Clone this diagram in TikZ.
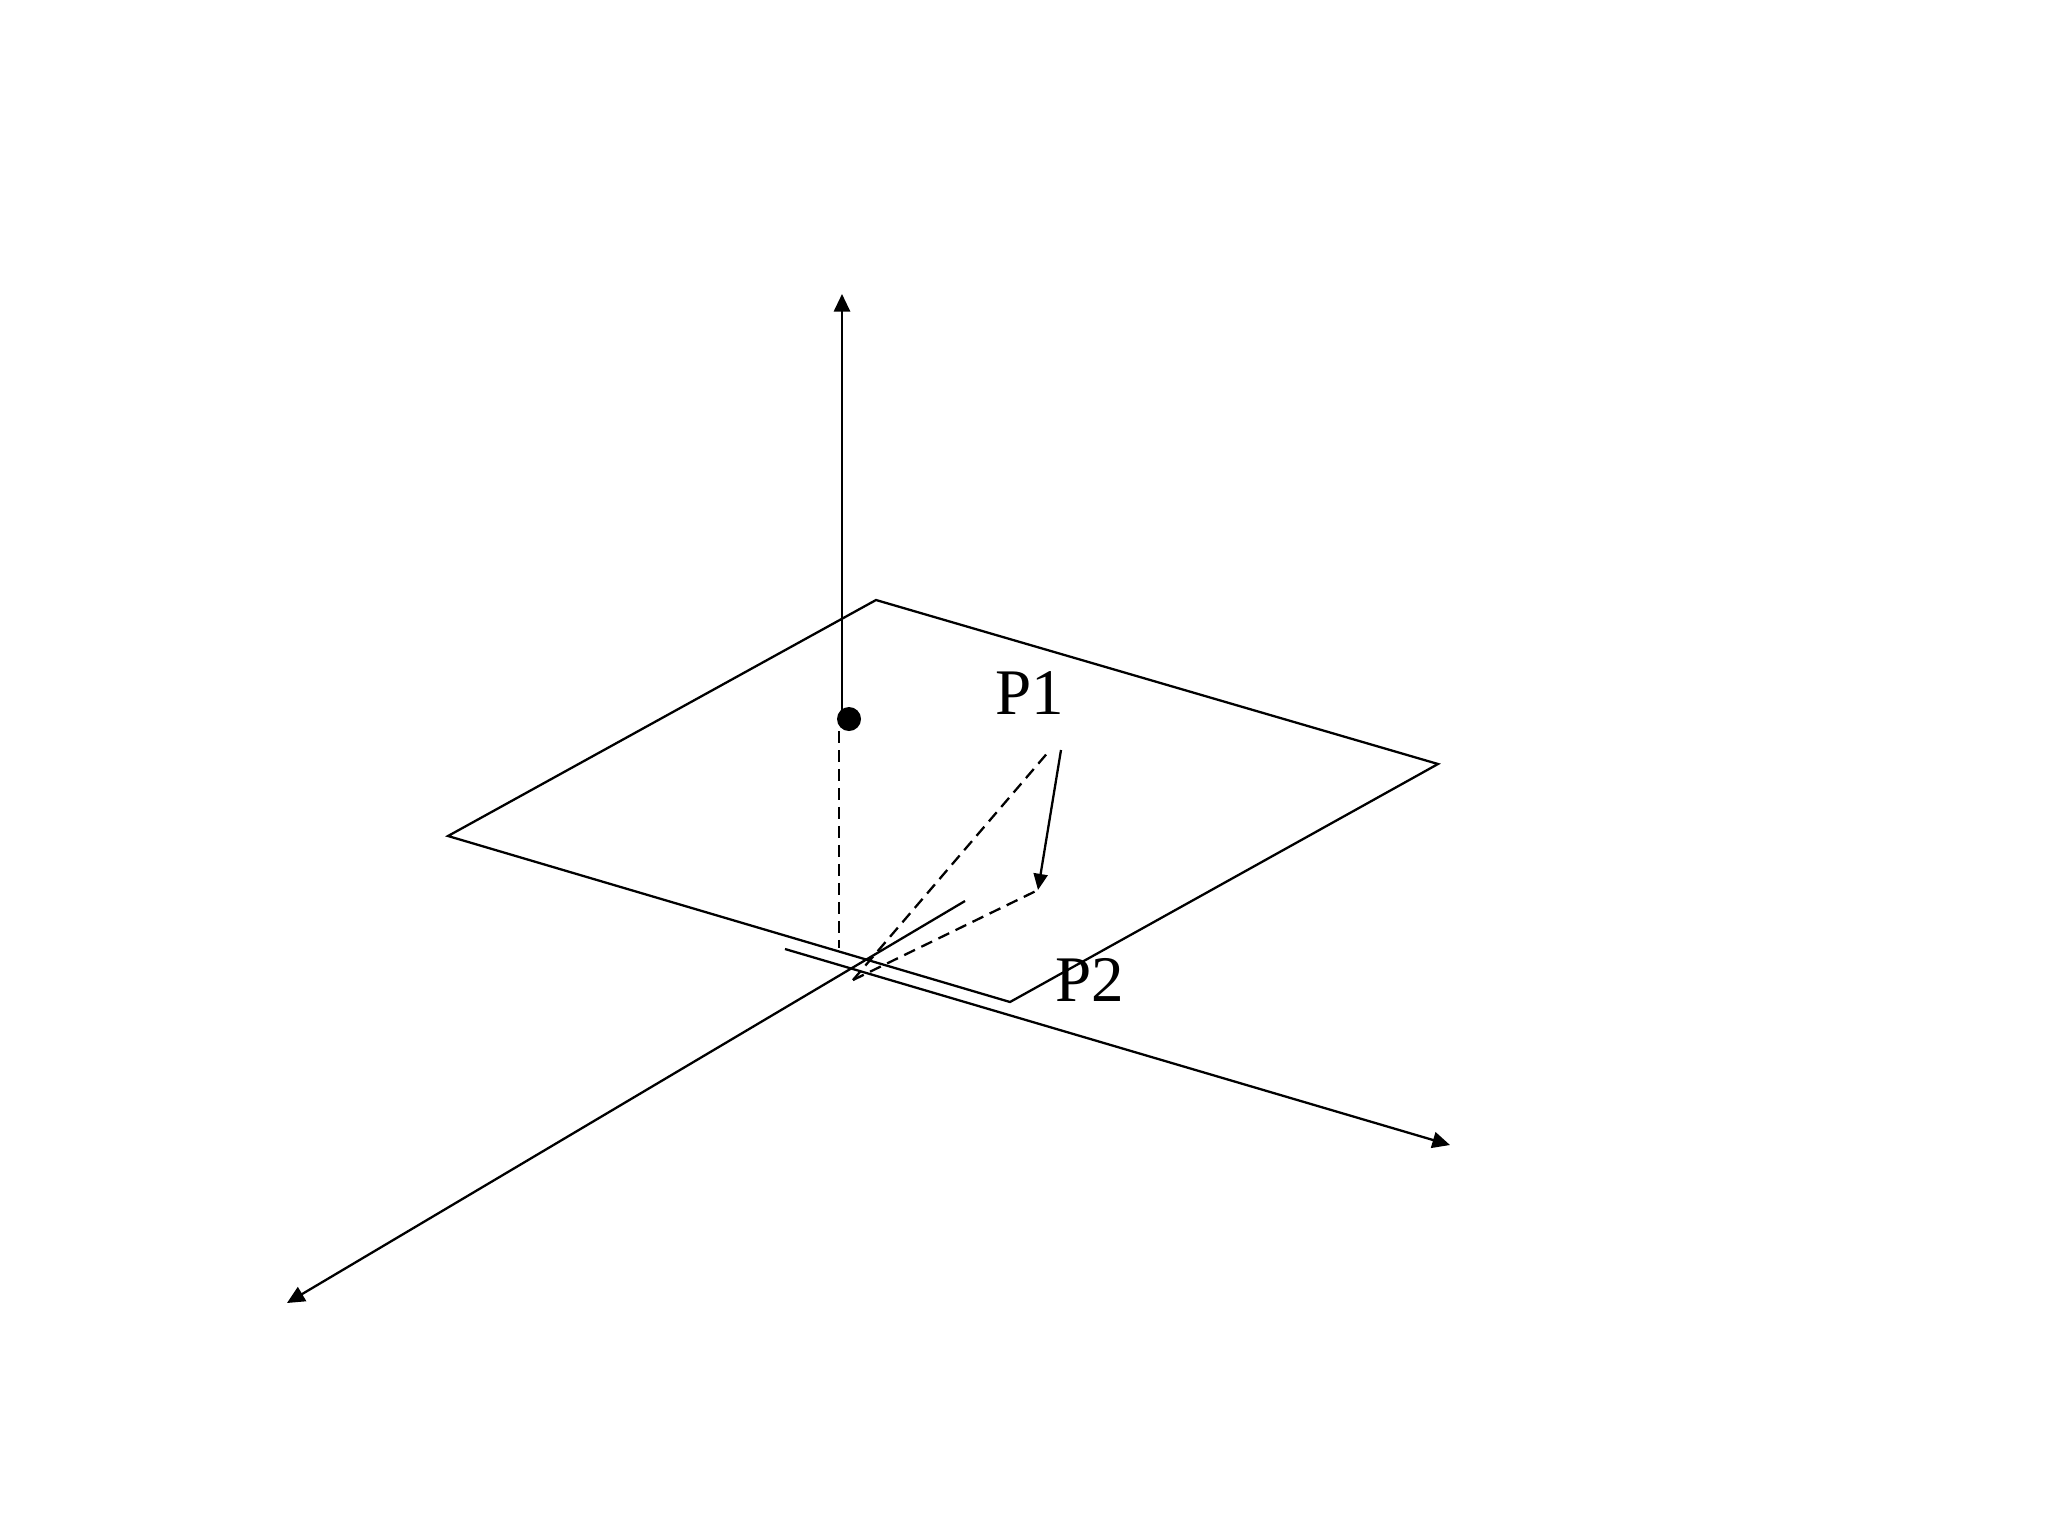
\documentclass[tikz,border=0pt]{standalone}
\usepackage{fontspec}
\setmainfont{Liberation Serif}
\usetikzlibrary{arrows.meta}
\tikzset{
	axis/.style={line width=0.65pt,-{Triangle[length=5pt,width=4.6pt]}},
	proj/.style={line width=0.65pt,dash pattern=on 3.4pt off 2pt},
	lbl/.style={font=\fontsize{18.5}{20}\selectfont,inner sep=0pt}
}
\begin{document}
\begin{tikzpicture}[x=0.01cm,y=-0.01cm]
	\useasboundingbox (0,0) rectangle (2048,1536);

	\coordinate (zt) at (842,294);
	\coordinate (xs) at (785,949);
	\coordinate (xe) at (1450,1145);
	\coordinate (ys) at (965,901);
	\coordinate (ye) at (287,1303);
	\coordinate (foot) at (839,948);
	\coordinate (o) at (853,980);
	\coordinate (a) at (1050,750);
	\coordinate (b) at (1061,750);
	\coordinate (c) at (1038,890);

	% plane
	\draw[line width=0.65pt] (448,836) -- (876,600) -- (1438,764) -- (1010,1002) -- cycle;

            \draw[axis] (xs) -- (xe);
            \draw[axis] (ys) -- (ye);

            \fill (849,719) circle [radius=12];
            \node (pt) at (849,719) {};
            \draw[axis] (842,719) -- (zt);
            \draw[proj] (839,731) -- (foot);

            \draw[proj] (o) -- (a);
            \draw[proj] (o) -- (c);
            \draw[axis,-{Triangle[length=4.6pt,width=4pt]}] (b) -- (c);

            \node[lbl] (P1) at (1030,693) {P1};
            \node[lbl] (P2) at (1090,980) {P2};
        \end{tikzpicture}
\end{document}
